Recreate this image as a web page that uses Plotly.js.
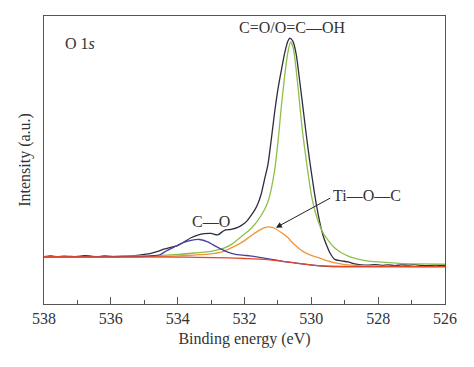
<!DOCTYPE html>
<html>
<head>
<meta charset="utf-8">
<script src="https://cdn.plot.ly/plotly-3.0.1.min.js"></script>
<style>html,body{margin:0;padding:0;background:#fff;}#chart{width:474px;height:367px;}</style>
</head>
<body>
<div id="chart"></div>
<script>
// Measured envelope (black)
const envE = [538,537.8,537.6,537.4,537.2,537.0,536.8,536.6,536.4,536.2,536.0,535.8,535.6,535.4,535.2,535.0,534.8,534.6,534.4,534.2,534.0,533.8,533.6,533.4,533.2,533.0,532.8,532.6,532.4,532.2,532.1,532.0,531.9,531.8,531.7,531.6,531.5,531.4,531.3,531.2,531.1,531.0,530.9,530.8,530.7,530.64,530.55,530.45,530.35,530.25,530.15,530.05,529.95,529.85,529.75,529.65,529.55,529.45,529.3,529.1,528.9,528.7,528.5,528.3,528.1,527.9,527.7,527.5,527.3,527.1,526.9,526.7,526.5,526.3,526.1,526.0];
const envI = [16.4,16.7,16.4,16.6,16.5,16.5,16.8,16.6,16.4,16.7,16.5,16.5,16.6,16.7,16.9,17.2,17.6,18.3,19.1,19.7,20.3,21.6,23.0,23.9,24.4,24.5,24.0,25.6,25.9,26.6,27.2,28.0,29.2,30.8,32.5,34.8,38.2,43.3,48.3,57.0,66.4,74.5,81.0,87.0,91.3,92.3,91.2,86.5,77.6,68.2,58.6,49.8,41.9,34.5,28.5,23.8,20.6,17.9,15.5,15.0,14.6,13.9,13.6,13.5,13.7,13.4,13.6,13.3,13.6,13.5,13.7,13.4,13.3,13.5,13.4,13.4];

// C=O / O=C-OH component (green)
const greenE = [538,537,536,535,534.5,534,533.5,533,532.8,532.6,532.4,532.2,532.0,531.8,531.6,531.4,531.3,531.2,531.1,531.0,530.9,530.8,530.7,530.62,530.54,530.46,530.37,530.27,530.14,529.99,529.84,529.64,529.34,529.1,528.84,528.6,528.34,528.0,527.35,526.7,526.0];
const greenI = [16.4,16.45,16.5,16.7,16.9,17.2,17.7,18.3,18.8,19.5,20.6,22.4,24.3,26.2,29.0,32.8,35.5,39.9,46.3,56.1,68.3,79.0,87.5,91.0,88.8,82.0,72.0,60.4,48.9,37.3,30.3,24.5,19.9,17.8,16.4,15.6,15.0,14.6,14.1,13.9,13.8];

// Ti-O-C component (orange)
const orangeE = [538,536,534.5,534,533.5,533,532.7,532.43,532.2,532.0,531.84,531.6,531.4,531.26,531.1,530.9,530.74,530.5,530.24,530.0,529.74,529.44,529.2,529.0,528.5,528.0,527.0,526.0];
const orangeI = [16.4,16.4,16.5,16.7,17.0,17.4,18.0,19.3,20.6,22.0,23.4,25.3,26.5,26.8,26.3,24.8,23.4,20.6,18.2,16.9,15.9,14.7,14.1,13.7,13.3,13.1,13.0,12.95];

// C-O component (blue)
const blueE = [538,536,535,534.8,534.53,534.33,534.1,533.84,533.6,533.35,533.1,532.84,532.54,532.3,532.0,531.84,531.4,530.9,530.4,529.9,529.4,528.5,526.0];
const blueI = [16.4,16.4,16.5,16.7,17.1,18.5,19.8,21.3,22.1,22.4,21.6,19.9,18.2,17.3,16.9,16.7,15.9,14.9,14.1,13.4,13.0,12.95,12.95];

// Background (red)
const bgE = [538,536,534,533.4,532.5,532,531.4,530.9,530.4,529.9,529.4,528.5,526];
const bgI = [16.4,16.35,16.3,16.2,16.0,15.8,15.5,14.9,14.1,13.4,13.1,13.0,12.95];

const xTickVals = [538,536,534,532,530,528,526];
const labels = {o1s: 'O 1<i>s</i>', main: 'C=O/O=C—OH', tioc: 'Ti—O—C', co: 'C—O'};

const ln = (x, y, c) => ({x: x, y: y, type: 'scatter', mode: 'lines', line: {color: c, width: 1.3, shape: 'spline', smoothing: 0.6}, hoverinfo: 'skip'});

const data = [
  ln(envE, envI, '#2e2e3e'),
  ln(greenE, greenI, '#8cc04a'),
  ln(orangeE, orangeI, '#f0943a'),
  ln(blueE, blueI, '#4a3fa0'),
  ln(bgE, bgI, '#e0482a')
];

const font = {family: '"Liberation Serif", "DejaVu Serif", serif', size: 16, color: '#333'};

const layout = {
  width: 474, height: 367,
  margin: {l: 44, r: 29, t: 16, b: 63},
  paper_bgcolor: '#fff', plot_bgcolor: '#fff',
  showlegend: false,
  font: font,
  xaxis: {
    range: [538, 526], tickvals: xTickVals, ticktext: xTickVals.map(String),
    ticks: 'inside', ticklen: 7, tickcolor: '#555', tickwidth: 1,
    minor: {dtick: 1, tick0: 526, ticks: 'inside', ticklen: 4, tickcolor: '#555'},
    showline: true, linecolor: '#555', linewidth: 1.2, mirror: true,
    showgrid: false, zeroline: false,
    tickfont: font,
    title: {text: 'Binding energy (eV)', font: font, standoff: 6}
  },
  yaxis: {
    range: [0, 100], showticklabels: false, ticks: '',
    showline: true, linecolor: '#555', linewidth: 1.2, mirror: true,
    showgrid: false, zeroline: false,
    title: {text: 'Intensity (a.u.)', font: font, standoff: 8}
  },
  annotations: [
    {x: 537.43, y: 90.6, xref: 'x', yref: 'y', text: labels.o1s, showarrow: false, xanchor: 'left', yanchor: 'middle', font: font},
    {x: 530.55, y: 95.9, xref: 'x', yref: 'y', text: labels.main, showarrow: false, xanchor: 'center', yanchor: 'middle', font: font},
    {x: 528.32, y: 37.8, xref: 'x', yref: 'y', text: labels.tioc, showarrow: false, xanchor: 'center', yanchor: 'middle', font: font},
    {x: 533.0, y: 28.6, xref: 'x', yref: 'y', text: labels.co, showarrow: false, xanchor: 'center', yanchor: 'middle', font: font},
    {x: 531.06, y: 26.5, xref: 'x', yref: 'y', ax: 529.39, ay: 37.05, axref: 'x', ayref: 'y', text: '', showarrow: true, arrowhead: 2, arrowsize: 1.2, arrowwidth: 1, arrowcolor: '#222'}
  ]
};

Plotly.newPlot('chart', data, layout, {displayModeBar: false, staticPlot: true});
</script>
</body>
</html>
